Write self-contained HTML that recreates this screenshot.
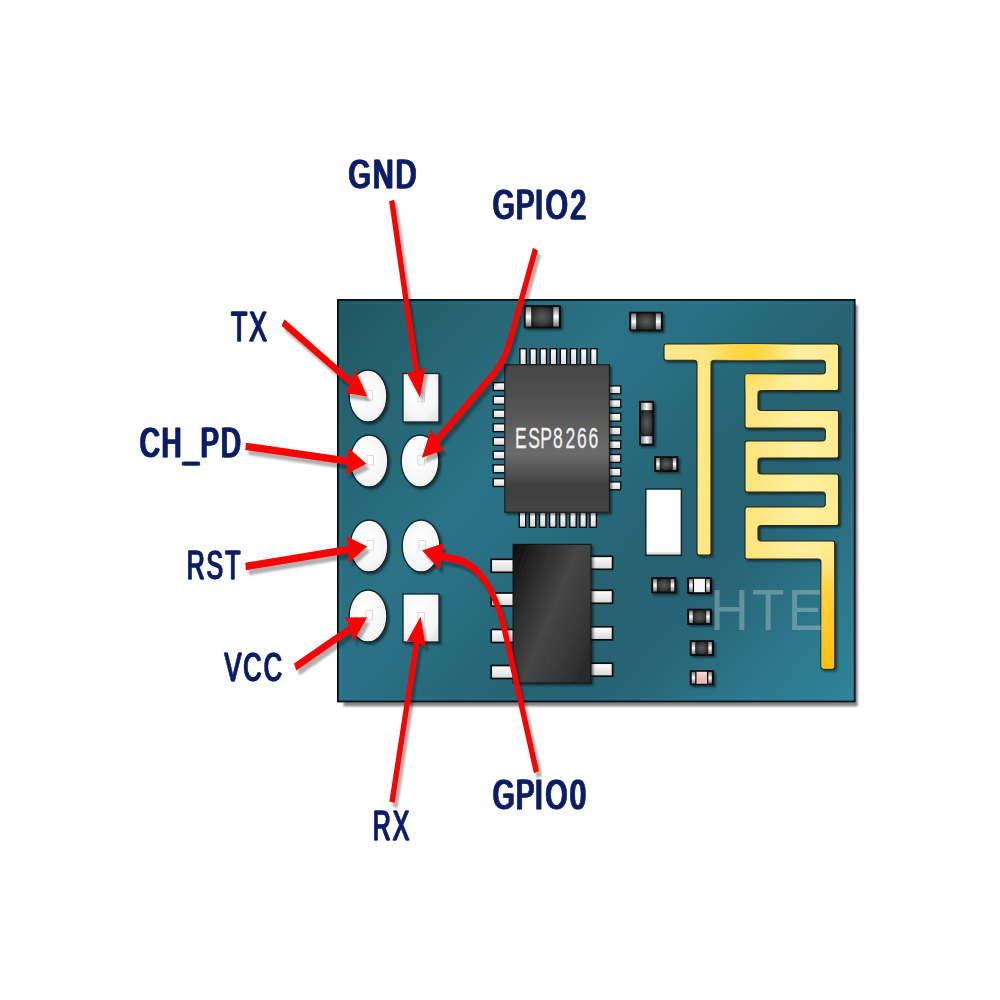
<!DOCTYPE html>
<html lang="en"><head><meta charset="utf-8"><title>ESP8266 ESP-01 pinout</title>
<style>
html,body{margin:0;padding:0;background:#fff;}
body{width:1000px;height:1000px;overflow:hidden;}
svg{display:block;}
text{font-family:"Liberation Sans",Arial,Helvetica,sans-serif;}
.lbl{font-size:42px;letter-spacing:3.4px;fill:#081d66;stroke:#081d66;stroke-width:.85px;stroke-linejoin:round;}
.chip{font-size:30px;letter-spacing:2.6px;fill:#f1f1f1;stroke:#f1f1f1;stroke-width:.3px;}
.wm{font-size:57px;fill:#d6dde0;fill-opacity:.34;letter-spacing:3.5px;}
</style></head><body>
<svg width="1000" height="1000" viewBox="0 0 1000 1000">
<defs>
<linearGradient id="gBoard" gradientUnits="userSpaceOnUse" x1="337" y1="300" x2="822" y2="738">
<stop offset="0" stop-color="#1f5661"/><stop offset=".17" stop-color="#266573"/><stop offset=".34" stop-color="#2a7285"/><stop offset=".42" stop-color="#2a7085"/><stop offset=".53" stop-color="#266878"/><stop offset=".6" stop-color="#266373"/><stop offset=".7" stop-color="#266273"/><stop offset=".89" stop-color="#2d7a8e"/><stop offset="1" stop-color="#2e8499"/>
</linearGradient>
<linearGradient id="gGold" gradientUnits="userSpaceOnUse" x1="664" y1="0" x2="839" y2="0">
<stop offset="0" stop-color="#ffe98e"/><stop offset=".3" stop-color="#ffe583"/><stop offset=".5" stop-color="#ffe47e"/><stop offset=".78" stop-color="#ffef9f"/><stop offset="1" stop-color="#ffea90"/>
</linearGradient>
<radialGradient id="gGoldHi" gradientUnits="userSpaceOnUse" cx="748" cy="351" r="46">
<stop offset="0" stop-color="#ffd43a"/><stop offset=".35" stop-color="#ffd640" stop-opacity=".85"/><stop offset="1" stop-color="#ffdc5a" stop-opacity="0"/>
</radialGradient>
<linearGradient id="gGold2" gradientUnits="userSpaceOnUse" x1="0" y1="545" x2="0" y2="669">
<stop offset="0" stop-color="#ffe37a" stop-opacity="0"/><stop offset=".35" stop-color="#ffd23c"/><stop offset="1" stop-color="#ffbf0c"/>
</linearGradient>
<linearGradient id="gChip" x1="0" y1="0" x2="0" y2="1">
<stop offset="0" stop-color="#464646"/><stop offset=".3" stop-color="#545454"/><stop offset=".6" stop-color="#6c6c6c"/><stop offset=".7" stop-color="#585858"/><stop offset=".82" stop-color="#3f3f3f"/><stop offset="1" stop-color="#444444"/>
</linearGradient>
<linearGradient id="gFlash" x1="0" y1="0" x2="1" y2=".75">
<stop offset="0" stop-color="#0b0b0b"/><stop offset=".22" stop-color="#262626"/><stop offset=".55" stop-color="#464646"/><stop offset=".8" stop-color="#3a3a3a"/><stop offset="1" stop-color="#2c2c2c"/>
</linearGradient>
<radialGradient id="gSmd" cx=".5" cy=".5" r=".65">
<stop offset="0" stop-color="#5a5a5a"/><stop offset=".55" stop-color="#3c3c3c"/><stop offset="1" stop-color="#141414"/>
</radialGradient>
<linearGradient id="gCapH" x1="0" y1="0" x2="1" y2="0">
<stop offset="0" stop-color="#7a7a7a"/><stop offset=".5" stop-color="#ffffff"/><stop offset="1" stop-color="#7a7a7a"/>
</linearGradient>
<linearGradient id="gCapV" x1="0" y1="0" x2="0" y2="1">
<stop offset="0" stop-color="#7a7a7a"/><stop offset=".5" stop-color="#ffffff"/><stop offset="1" stop-color="#7a7a7a"/>
</linearGradient>
<linearGradient id="gPinV" x1="0" y1="0" x2="0" y2="1">
<stop offset="0" stop-color="#ffffff"/><stop offset="1" stop-color="#d8d8d8"/>
</linearGradient>
<linearGradient id="gWhite" x1="0" y1="0" x2="0" y2="1">
<stop offset="0" stop-color="#ffffff"/><stop offset=".94" stop-color="#ffffff"/><stop offset="1" stop-color="#b9b9b9"/>
</linearGradient>
<linearGradient id="gPink" x1="0" y1="0" x2="0" y2="1">
<stop offset="0" stop-color="#f7dada"/><stop offset=".7" stop-color="#f0b4b4"/><stop offset="1" stop-color="#f4c8c8"/>
</linearGradient>
<radialGradient id="gPad" cx=".45" cy=".4" r=".7">
<stop offset="0" stop-color="#ffffff"/><stop offset=".7" stop-color="#f6f6f6"/><stop offset="1" stop-color="#e4e4e4"/>
</radialGradient>
<filter id="sh" x="-20%" y="-20%" width="150%" height="150%">
<feGaussianBlur in="SourceAlpha" stdDeviation="1.3"/><feOffset dx="3" dy="4.5"/>
<feComponentTransfer><feFuncA type="linear" slope=".31"/></feComponentTransfer>
<feMerge><feMergeNode/><feMergeNode in="SourceGraphic"/></feMerge>
</filter>
<filter id="shs" x="-20%" y="-20%" width="150%" height="150%">
<feGaussianBlur in="SourceAlpha" stdDeviation="1"/><feOffset dx="1.5" dy="2"/>
<feComponentTransfer><feFuncA type="linear" slope=".5"/></feComponentTransfer>
<feMerge><feMergeNode/><feMergeNode in="SourceGraphic"/></feMerge>
</filter>
<filter id="shb" x="-5%" y="-5%" width="112%" height="112%">
<feGaussianBlur in="SourceAlpha" stdDeviation="1.2"/>
<feComponentTransfer><feFuncA type="linear" slope=".48"/></feComponentTransfer>
</filter>
<filter id="fat" x="-10%" y="-10%" width="120%" height="120%">
<feOffset dx="2.35" dy="0" result="o"/><feMerge><feMergeNode in="SourceGraphic"/><feMergeNode in="o"/></feMerge>
</filter>
</defs>
<rect width="1000" height="1000" fill="#fff"/>

<rect x="343.5" y="305" width="514.2" height="401.3" fill="#000" filter="url(#shb)"/>
<rect x="337.9" y="299.9" width="516.8" height="401.6" fill="url(#gBoard)" stroke="#03121a" stroke-width="1.8"/>
<rect x="341.6" y="303.4" width="509.6" height="394.8" fill="none" stroke="#4ab0c8" stroke-opacity=".13" stroke-width="1"/>
<g filter="url(#shs)"><path d="M664.00,346.20 Q664.00,344.00 666.20,344.00 L836.40,344.00 Q838.60,344.00 838.60,346.20 L838.60,388.30 Q838.60,390.50 836.40,390.50 L761.20,390.50 Q758.00,390.50 758.00,393.70 L758.00,407.30 Q758.00,410.50 761.20,410.50 L836.40,410.50 Q838.60,410.50 838.60,412.70 L838.60,455.80 Q838.60,458.00 836.40,458.00 L761.20,458.00 Q758.00,458.00 758.00,461.20 L758.00,470.80 Q758.00,474.00 761.20,474.00 L836.40,474.00 Q838.60,474.00 838.60,476.20 L838.60,523.30 Q838.60,525.50 836.40,525.50 L761.20,525.50 Q758.00,525.50 758.00,528.70 L758.00,537.80 Q758.00,541.00 761.20,541.00 L832.50,541.00 Q834.70,541.00 834.70,543.20 L834.70,666.80 Q834.70,669.00 832.50,669.00 L823.20,669.00 Q821.00,669.00 821.00,666.80 L821.00,562.20 Q821.00,559.00 817.80,559.00 L747.20,559.00 Q745.00,559.00 745.00,556.80 L745.00,509.20 Q745.00,507.00 747.20,507.00 L822.10,507.00 Q825.30,507.00 825.30,503.80 L825.30,495.20 Q825.30,492.00 822.10,492.00 L747.20,492.00 Q745.00,492.00 745.00,489.80 L745.00,443.20 Q745.00,441.00 747.20,441.00 L822.10,441.00 Q825.30,441.00 825.30,437.80 L825.30,431.20 Q825.30,428.00 822.10,428.00 L747.20,428.00 Q745.00,428.00 745.00,425.80 L745.00,376.20 Q745.00,374.00 747.20,374.00 L822.10,374.00 Q825.30,374.00 825.30,370.80 L825.30,363.40 Q825.30,360.20 822.10,360.20 L714.20,360.20 Q711.00,360.20 711.00,363.40 L711.00,552.80 Q711.00,555.00 708.80,555.00 L699.20,555.00 Q697.00,555.00 697.00,552.80 L697.00,363.40 Q697.00,360.20 693.80,360.20 L666.20,360.20 Q664.00,360.20 664.00,358.00 Z" fill="url(#gGold)" stroke="#2a2200" stroke-width="1.1" stroke-linejoin="round"/></g>
<path d="M664.00,346.20 Q664.00,344.00 666.20,344.00 L836.40,344.00 Q838.60,344.00 838.60,346.20 L838.60,388.30 Q838.60,390.50 836.40,390.50 L761.20,390.50 Q758.00,390.50 758.00,393.70 L758.00,407.30 Q758.00,410.50 761.20,410.50 L836.40,410.50 Q838.60,410.50 838.60,412.70 L838.60,455.80 Q838.60,458.00 836.40,458.00 L761.20,458.00 Q758.00,458.00 758.00,461.20 L758.00,470.80 Q758.00,474.00 761.20,474.00 L836.40,474.00 Q838.60,474.00 838.60,476.20 L838.60,523.30 Q838.60,525.50 836.40,525.50 L761.20,525.50 Q758.00,525.50 758.00,528.70 L758.00,537.80 Q758.00,541.00 761.20,541.00 L832.50,541.00 Q834.70,541.00 834.70,543.20 L834.70,666.80 Q834.70,669.00 832.50,669.00 L823.20,669.00 Q821.00,669.00 821.00,666.80 L821.00,562.20 Q821.00,559.00 817.80,559.00 L747.20,559.00 Q745.00,559.00 745.00,556.80 L745.00,509.20 Q745.00,507.00 747.20,507.00 L822.10,507.00 Q825.30,507.00 825.30,503.80 L825.30,495.20 Q825.30,492.00 822.10,492.00 L747.20,492.00 Q745.00,492.00 745.00,489.80 L745.00,443.20 Q745.00,441.00 747.20,441.00 L822.10,441.00 Q825.30,441.00 825.30,437.80 L825.30,431.20 Q825.30,428.00 822.10,428.00 L747.20,428.00 Q745.00,428.00 745.00,425.80 L745.00,376.20 Q745.00,374.00 747.20,374.00 L822.10,374.00 Q825.30,374.00 825.30,370.80 L825.30,363.40 Q825.30,360.20 822.10,360.20 L714.20,360.20 Q711.00,360.20 711.00,363.40 L711.00,552.80 Q711.00,555.00 708.80,555.00 L699.20,555.00 Q697.00,555.00 697.00,552.80 L697.00,363.40 Q697.00,360.20 693.80,360.20 L666.20,360.20 Q664.00,360.20 664.00,358.00 Z" fill="url(#gGoldHi)"/>
<rect x="821.6" y="545" width="12.5" height="123.4" rx="2" fill="url(#gGold2)"/>
<g filter="url(#shs)">
<ellipse cx="368" cy="396" rx="18.8" ry="26" fill="url(#gPad)" stroke="#10262e" stroke-width="1.3"/>
<rect x="366" y="390.5" width="6.5" height="9.5" fill="#fcfcfc" stroke="#dcdcdc" stroke-width="1"/>
<ellipse cx="369" cy="461" rx="18.8" ry="26" fill="url(#gPad)" stroke="#10262e" stroke-width="1.3"/>
<rect x="367" y="455.5" width="6.5" height="9.5" fill="#fcfcfc" stroke="#dcdcdc" stroke-width="1"/>
<ellipse cx="369" cy="546" rx="18.8" ry="26" fill="url(#gPad)" stroke="#10262e" stroke-width="1.3"/>
<rect x="367" y="540.5" width="6.5" height="9.5" fill="#fcfcfc" stroke="#dcdcdc" stroke-width="1"/>
<ellipse cx="368" cy="616" rx="18.8" ry="26" fill="url(#gPad)" stroke="#10262e" stroke-width="1.3"/>
<rect x="366" y="610.5" width="6.5" height="9.5" fill="#fcfcfc" stroke="#dcdcdc" stroke-width="1"/>
<ellipse cx="420" cy="461" rx="18.8" ry="26" fill="url(#gPad)" stroke="#10262e" stroke-width="1.3"/>
<rect x="418" y="455.5" width="6.5" height="9.5" fill="#fcfcfc" stroke="#dcdcdc" stroke-width="1"/>
<ellipse cx="421" cy="546" rx="18.8" ry="26" fill="url(#gPad)" stroke="#10262e" stroke-width="1.3"/>
<rect x="419" y="540.5" width="6.5" height="9.5" fill="#fcfcfc" stroke="#dcdcdc" stroke-width="1"/>
<rect x="403" y="373.5" width="36" height="48.5" fill="url(#gPad)" stroke="#10262e" stroke-width="1.3"/>
<rect x="418" y="392.25" width="6.5" height="9.5" fill="#fcfcfc" stroke="#dcdcdc" stroke-width="1"/>
<rect x="403" y="594" width="36" height="48" fill="url(#gPad)" stroke="#10262e" stroke-width="1.3"/>
<rect x="418" y="612.5" width="6.5" height="9.5" fill="#fcfcfc" stroke="#dcdcdc" stroke-width="1"/>
</g>
<g fill="url(#gPinV)" stroke="#0c0c0c" stroke-width="1.4">
<rect x="519.9" y="348.7" width="6.4" height="16"/>
<rect x="519.3" y="512" width="6.4" height="15.3"/>
<rect x="530.0" y="348.7" width="6.4" height="16"/>
<rect x="529.4" y="512" width="6.4" height="15.3"/>
<rect x="540.1" y="348.7" width="6.4" height="16"/>
<rect x="539.5" y="512" width="6.4" height="15.3"/>
<rect x="550.2" y="348.7" width="6.4" height="16"/>
<rect x="549.6" y="512" width="6.4" height="15.3"/>
<rect x="560.3" y="348.7" width="6.4" height="16"/>
<rect x="559.7" y="512" width="6.4" height="15.3"/>
<rect x="570.4" y="348.7" width="6.4" height="16"/>
<rect x="569.8" y="512" width="6.4" height="15.3"/>
<rect x="580.5" y="348.7" width="6.4" height="16"/>
<rect x="579.9" y="512" width="6.4" height="15.3"/>
<rect x="590.6" y="348.7" width="6.4" height="16"/>
<rect x="590.0" y="512" width="6.4" height="15.3"/>
<rect x="493.2" y="382.6" width="12" height="7.9"/>
<rect x="609" y="385.9" width="11.8" height="7.9"/>
<rect x="493.2" y="396.3" width="12" height="7.9"/>
<rect x="609" y="399.6" width="11.8" height="7.9"/>
<rect x="493.2" y="410.0" width="12" height="7.9"/>
<rect x="609" y="413.3" width="11.8" height="7.9"/>
<rect x="493.2" y="423.8" width="12" height="7.9"/>
<rect x="609" y="427.1" width="11.8" height="7.9"/>
<rect x="493.2" y="437.5" width="12" height="7.9"/>
<rect x="609" y="440.8" width="11.8" height="7.9"/>
<rect x="493.2" y="451.2" width="12" height="7.9"/>
<rect x="609" y="454.5" width="11.8" height="7.9"/>
<rect x="493.2" y="464.9" width="12" height="7.9"/>
<rect x="609" y="468.2" width="11.8" height="7.9"/>
<rect x="493.2" y="478.6" width="12" height="7.9"/>
<rect x="609" y="481.9" width="11.8" height="7.9"/>
</g>
<g filter="url(#shs)"><rect x="504.8" y="364.8" width="104.6" height="147.4" fill="url(#gChip)" stroke="#1c1c1c" stroke-width="1.2"/></g>
<text class="chip" dx="0 0 -2.2 -0.6 2 0.3 0.5" transform="translate(515.05,447.512) scale(0.585,0.9767)">ESP8266</text>
<g fill="url(#gPinV)" stroke="#0a0a0a" stroke-width="1.7">
<rect x="491.2" y="559.3" width="24" height="13"/>
<rect x="491.2" y="593" width="24" height="13"/>
<rect x="491.2" y="629.5" width="24" height="13"/>
<rect x="491.2" y="665.5" width="24" height="13"/>
<rect x="590" y="556.3" width="22.6" height="13"/>
<rect x="590" y="590.3" width="22.6" height="13"/>
<rect x="590" y="626.8" width="22.6" height="13"/>
<rect x="590" y="663.2" width="22.6" height="13"/>
</g>
<g filter="url(#shs)"><rect x="513" y="544.3" width="78" height="138.7" fill="url(#gFlash)" stroke="#111" stroke-width="1"/></g>
<rect x="645.8" y="489" width="35.6" height="66.4" fill="url(#gWhite)" stroke="#0c2831" stroke-width="1.5"/>
<g filter="url(#shs)">
<rect x="524.5" y="306" width="35.5" height="21.5" fill="#0a0a0a" stroke="#080808" stroke-width="1.5"/>
<rect x="531.203" y="306.8" width="22.095" height="19.9" fill="url(#gSmd)"/>
<rect x="525.7" y="307" width="5.5025" height="19.5" fill="url(#gCapV)"/>
<rect x="553.297" y="307" width="5.5025" height="19.5" fill="url(#gCapV)"/>
<rect x="630" y="312.5" width="32" height="18" fill="#0a0a0a" stroke="#080808" stroke-width="1.5"/>
<rect x="636.16" y="313.3" width="19.68" height="16.4" fill="url(#gSmd)"/>
<rect x="631.2" y="313.5" width="4.96" height="16" fill="url(#gCapV)"/>
<rect x="655.84" y="313.5" width="4.96" height="16" fill="url(#gCapV)"/>
<rect x="639.9" y="401.6" width="13.5" height="43.2" fill="#0a0a0a" stroke="#080808" stroke-width="1.5"/>
<rect x="640.7" y="410.144" width="11.9" height="26.112" fill="url(#gSmd)"/>
<rect x="640.9" y="402.8" width="11.5" height="7.344" fill="url(#gCapH)"/>
<rect x="640.9" y="436.256" width="11.5" height="7.344" fill="url(#gCapH)"/>
<rect x="655" y="457" width="22.5" height="14" fill="#0a0a0a" stroke="#080808" stroke-width="1.5"/>
<rect x="659.688" y="457.8" width="13.125" height="12.4" fill="url(#gSmd)"/>
<rect x="656.2" y="458" width="3.4875" height="12" fill="url(#gCapV)"/>
<rect x="672.812" y="458" width="3.4875" height="12" fill="url(#gCapV)"/>
<rect x="652" y="578" width="23.5" height="14.5" fill="#0a0a0a" stroke="#080808" stroke-width="1.5"/>
<rect x="656.843" y="578.8" width="13.815" height="12.9" fill="url(#gSmd)"/>
<rect x="653.2" y="579" width="3.6425" height="12.5" fill="url(#gCapV)"/>
<rect x="670.657" y="579" width="3.6425" height="12.5" fill="url(#gCapV)"/>
<rect x="688" y="578" width="23" height="15" fill="#0a0a0a" stroke="#080808" stroke-width="1.5"/>
<rect x="694.065" y="578.8" width="10.87" height="13.4" fill="#f6f6f6"/>
<rect x="689.2" y="579" width="3.565" height="13" fill="url(#gCapV)"/>
<rect x="706.235" y="579" width="3.565" height="13" fill="url(#gCapV)"/>
<rect x="688" y="609.5" width="23" height="14.5" fill="#0a0a0a" stroke="#080808" stroke-width="1.5"/>
<rect x="692.765" y="610.3" width="13.47" height="12.9" fill="url(#gSmd)"/>
<rect x="689.2" y="610.5" width="3.565" height="12.5" fill="url(#gCapV)"/>
<rect x="706.235" y="610.5" width="3.565" height="12.5" fill="url(#gCapV)"/>
<rect x="690.5" y="641" width="22.5" height="14" fill="#0a0a0a" stroke="#080808" stroke-width="1.5"/>
<rect x="695.188" y="641.8" width="13.125" height="12.4" fill="url(#gSmd)"/>
<rect x="691.7" y="642" width="3.4875" height="12" fill="url(#gCapV)"/>
<rect x="708.312" y="642" width="3.4875" height="12" fill="url(#gCapV)"/>
<rect x="690.5" y="671" width="22.5" height="13.5" fill="#0a0a0a" stroke="#080808" stroke-width="1.5"/>
<rect x="696.487" y="671.8" width="10.525" height="11.9" fill="url(#gPink)"/>
<rect x="691.7" y="672" width="3.4875" height="11.5" fill="url(#gCapV)"/>
<rect x="708.312" y="672" width="3.4875" height="11.5" fill="url(#gCapV)"/>
</g>
<text class="wm" transform="translate(710.37,630) scale(0.9327,0.9987)">HTE</text>
<g filter="url(#sh)"><g transform="scale(0.71,1)" fill="#ff0000" stroke="none">
<polygon points="548.1,201.2 582.6,372.2 572.8,372.6 591.5,397.4 599.2,367.3 590.0,370.7 555.4,199.8"/>
<polygon points="396.6,325.7 492.7,385.6 486.3,393.0 517.2,396.4 500.6,370.1 496.7,379.2 400.6,319.3"/>
<polygon points="345.5,450.1 489.6,464.8 487.1,474.4 516.3,463.8 489.9,447.5 490.4,457.4 346.3,442.7"/>
<polygon points="346.4,570.2 491.3,553.2 490.9,563.1 517.2,546.4 487.8,536.3 490.4,545.8 345.5,562.8"/>
<polygon points="417.4,670.4 495.0,632.2 498.0,641.7 517.2,617.2 486.1,617.4 491.7,625.5 414.1,663.6"/>
<polygon points="555.8,803.0 590.4,643.3 599.6,646.8 592.4,616.6 573.3,641.1 583.1,641.7 548.4,801.4"/>
<path d="M754.2,249.1 L721.8,331.5 C715.5,347.5 712.0,358.0 695.8,373.4 L619.7,436.5 L614.1,441.2" fill="none" stroke="#ff0000" stroke-width="7.5" stroke-linecap="butt" stroke-linejoin="round"/><polygon points="607.0,429.5 594.1,457.8 624.2,450.3"/>
<path d="M755.6,772.2 L711.3,632.0 C686.3,554.0 639.4,560.2 621.1,556.2 L620.1,556.0" fill="none" stroke="#ff0000" stroke-width="7.5" stroke-linecap="butt" stroke-linejoin="round"/><polygon points="624.8,543.2 594.6,550.6 619.2,569.6"/>
</g></g>
<text class="lbl" filter="url(#fat)" transform="translate(347.825,188.257) scale(0.6717,0.9902)">GND</text>
<text class="lbl" dx="0 -1.2 -2.1 1.2 1.4" filter="url(#fat)" transform="translate(492.101,218.856) scale(0.6568,0.9918)">GPIO2</text>
<text class="lbl" filter="url(#fat)" transform="translate(230.484,341.389) scale(0.6318,1.0218)">TX</text>
<text class="lbl" filter="url(#fat)" transform="translate(139.074,457.447) scale(0.6436,1.0033)">CH_PD</text>
<text class="lbl" filter="url(#fat)" transform="translate(186.23,579.062) scale(0.5899,0.9836)">RST</text>
<text class="lbl" filter="url(#fat)" transform="translate(223.95,681.262) scale(0.6016,0.9836)">VCC</text>
<text class="lbl" filter="url(#fat)" transform="translate(372.225,840.496) scale(0.5917,1.0084)">RX</text>
<text class="lbl" dx="0 -1.2 -2.1 1.2 1.4" filter="url(#fat)" transform="translate(492.105,809.455) scale(0.6545,0.9934)">GPIO0</text>
</svg></body></html>
